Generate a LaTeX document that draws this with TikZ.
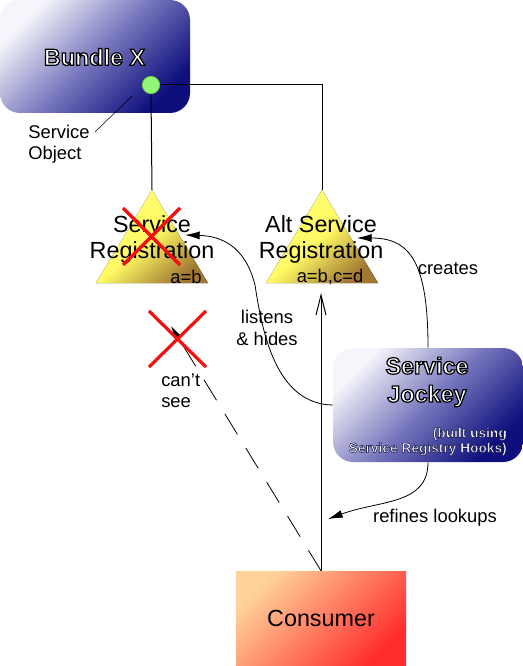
\documentclass[tikz,border=0pt]{standalone}
\usepackage{fontspec}
\setmainfont{Liberation Sans}
\usetikzlibrary{arrows.meta,calc}
\definecolor{bxlight}{RGB}{245,245,252}
\definecolor{bxmid}{RGB}{118,118,188}
\definecolor{bxdark}{RGB}{14,14,125}
\definecolor{trilight}{RGB}{255,255,115}
\definecolor{trimid}{RGB}{255,250,100}
\definecolor{tridark}{RGB}{160,120,50}
\definecolor{conlight}{RGB}{255,210,155}
\definecolor{condark}{RGB}{255,45,45}
\definecolor{objgreen}{RGB}{145,245,120}
\definecolor{objedge}{RGB}{115,200,70}
\definecolor{xred}{RGB}{245,15,15}
\newcommand\outlined[1]{{\color{white}\special{pdf:literal direct 0 0 0 RG 2 Tr 0.9 w}#1\special{pdf:literal direct 0 Tr}}}
\newcommand\outlinedthin[1]{{\color{white}\special{pdf:literal direct 0.1 0.1 0.3 RG 2 Tr 0.4 w}#1\special{pdf:literal direct 0 Tr}}}
\begin{document}
\begin{tikzpicture}[x=0.75pt,y=-0.75pt,
  bluebox/.style={rounded corners=15pt, top color=bxlight, bottom color=bxdark, middle color=bxmid, shading angle=45, inner sep=0pt},
  trishade/.style={top color=trilight, bottom color=tridark, middle color=trimid, shading angle=40},
  conbox/.style={top color=conlight, bottom color=condark, shading angle=45, inner sep=0pt},
  bigtext/.style={font=\fontsize{17.5}{19.5}\selectfont, inner sep=0pt, align=center},
  bigbold/.style={font=\bfseries\fontsize{17.5}{21}\selectfont, inner sep=0pt, align=center},
  smalltext/.style={font=\fontsize{13.8}{16}\selectfont, inner sep=0pt},
  notetext/.style={font=\bfseries\fontsize{10.3}{11.3}\selectfont, inner sep=0pt, align=right},
  conn/.style={line width=0.75pt},
  curve/.style={line width=0.6pt, -{Latex[length=11pt,width=6pt]}},
  redx/.style={draw=xred, line width=2.4pt}
]
\useasboundingbox (0,0) rectangle (523,666);

% Bundle X
\node[bluebox, minimum width=142.5pt, minimum height=84.75pt] (bundle) at (95,56.5) {};
\node[bigbold] (bundletitle) at (94.5,57) {\outlined{Bundle X}};

% service object
\node[circle, fill=objgreen, draw=objedge, line width=0.6pt, minimum size=13pt, inner sep=0pt] (sobj) at (151,85) {};
\coordinate (srtop) at (152,190);
\coordinate (alttop) at (322,190);
\draw[conn] (sobj.south) -- (srtop);
\draw[conn] (sobj.east) -| (alttop);

\node[smalltext, align=left, anchor=west] (solabel) at (28,144) {Service\\Object};
\coordinate (solstart) at (95,132);
\coordinate (solend) at (132,96);
\draw[line width=0.4pt] (solstart) -- (solend);

% Service Registration
\fill[trishade] (srtop) -- (208,283) -- (96,283) -- cycle;
\node[bigtext] (srtext) at (152,239) {Service\\Registration};
\node[smalltext] (srattr) at (186,277) {a=b};
\draw[redx] (123,208) -- (180,265) (180,208) -- (123,265);

% Alt Service Registration
\fill[trishade] (alttop) -- (378,283) -- (266,283) -- cycle;
\node[bigtext] (alttext) at (321,239) {Alt Service\\Registration};
\node[smalltext] (altattr) at (330,277) {a=b,c=d};

% Service Jockey
\node[bluebox, minimum width=142.5pt, minimum height=85.5pt] (jockey) at (428,405) {};
\node[bigbold] (jtitle) at (427,382) {\outlined{Service}\\\outlined{Jockey}};
\node[notetext, anchor=east] (jnote) at (507,441.5) {\outlinedthin{(built using}\\\outlinedthin{Service Registry Hooks)}};

% Consumer
\node[conbox, minimum width=127.5pt, minimum height=71.25pt, font=\fontsize{17.5}{19.5}\selectfont] (consumer) at (321,618.5) {Consumer};

% can't see
\coordinate (hidden) at (171,326);
\draw[line width=0.6pt, dash pattern=on 18pt off 12pt, -{Latex[length=11pt,width=6pt]}] (consumer.north) -- (hidden);
\draw[redx] (149,311) -- (206,367) (206,311) -- (149,367);
\node[smalltext, align=left, anchor=west] (cantsee) at (161,391) {can't\\see};

% lookup
\coordinate (altbase) at (321,293);
\draw[conn, -{Straight Barb[length=15pt,width=7.5pt]}] (consumer.north) -- (altbase);

% listens & hides
\coordinate (srin) at (185,235);
\coordinate (lhmid) at (255,285);
\draw[curve] (jockey.west) .. controls (275,404) and (262,330) .. (lhmid) .. controls (245,245) and (220,236) .. (srin);
\node[smalltext, align=center] (lhlabel) at (267,328) {listens\\\& hides};

% creates
\coordinate (altin) at (357,238);
\draw[curve] (jockey.north) .. controls (428,262) and (410,238) .. (altin);
\node[smalltext] (crlabel) at (448,269) {creates};

% refines lookups
\coordinate (lookin) at (328,519);
\draw[curve] (jockey.south) .. controls (428,505) and (380,500) .. (lookin);
\node[smalltext] (rllabel) at (435,518) {refines lookups};
\end{tikzpicture}
\end{document}
